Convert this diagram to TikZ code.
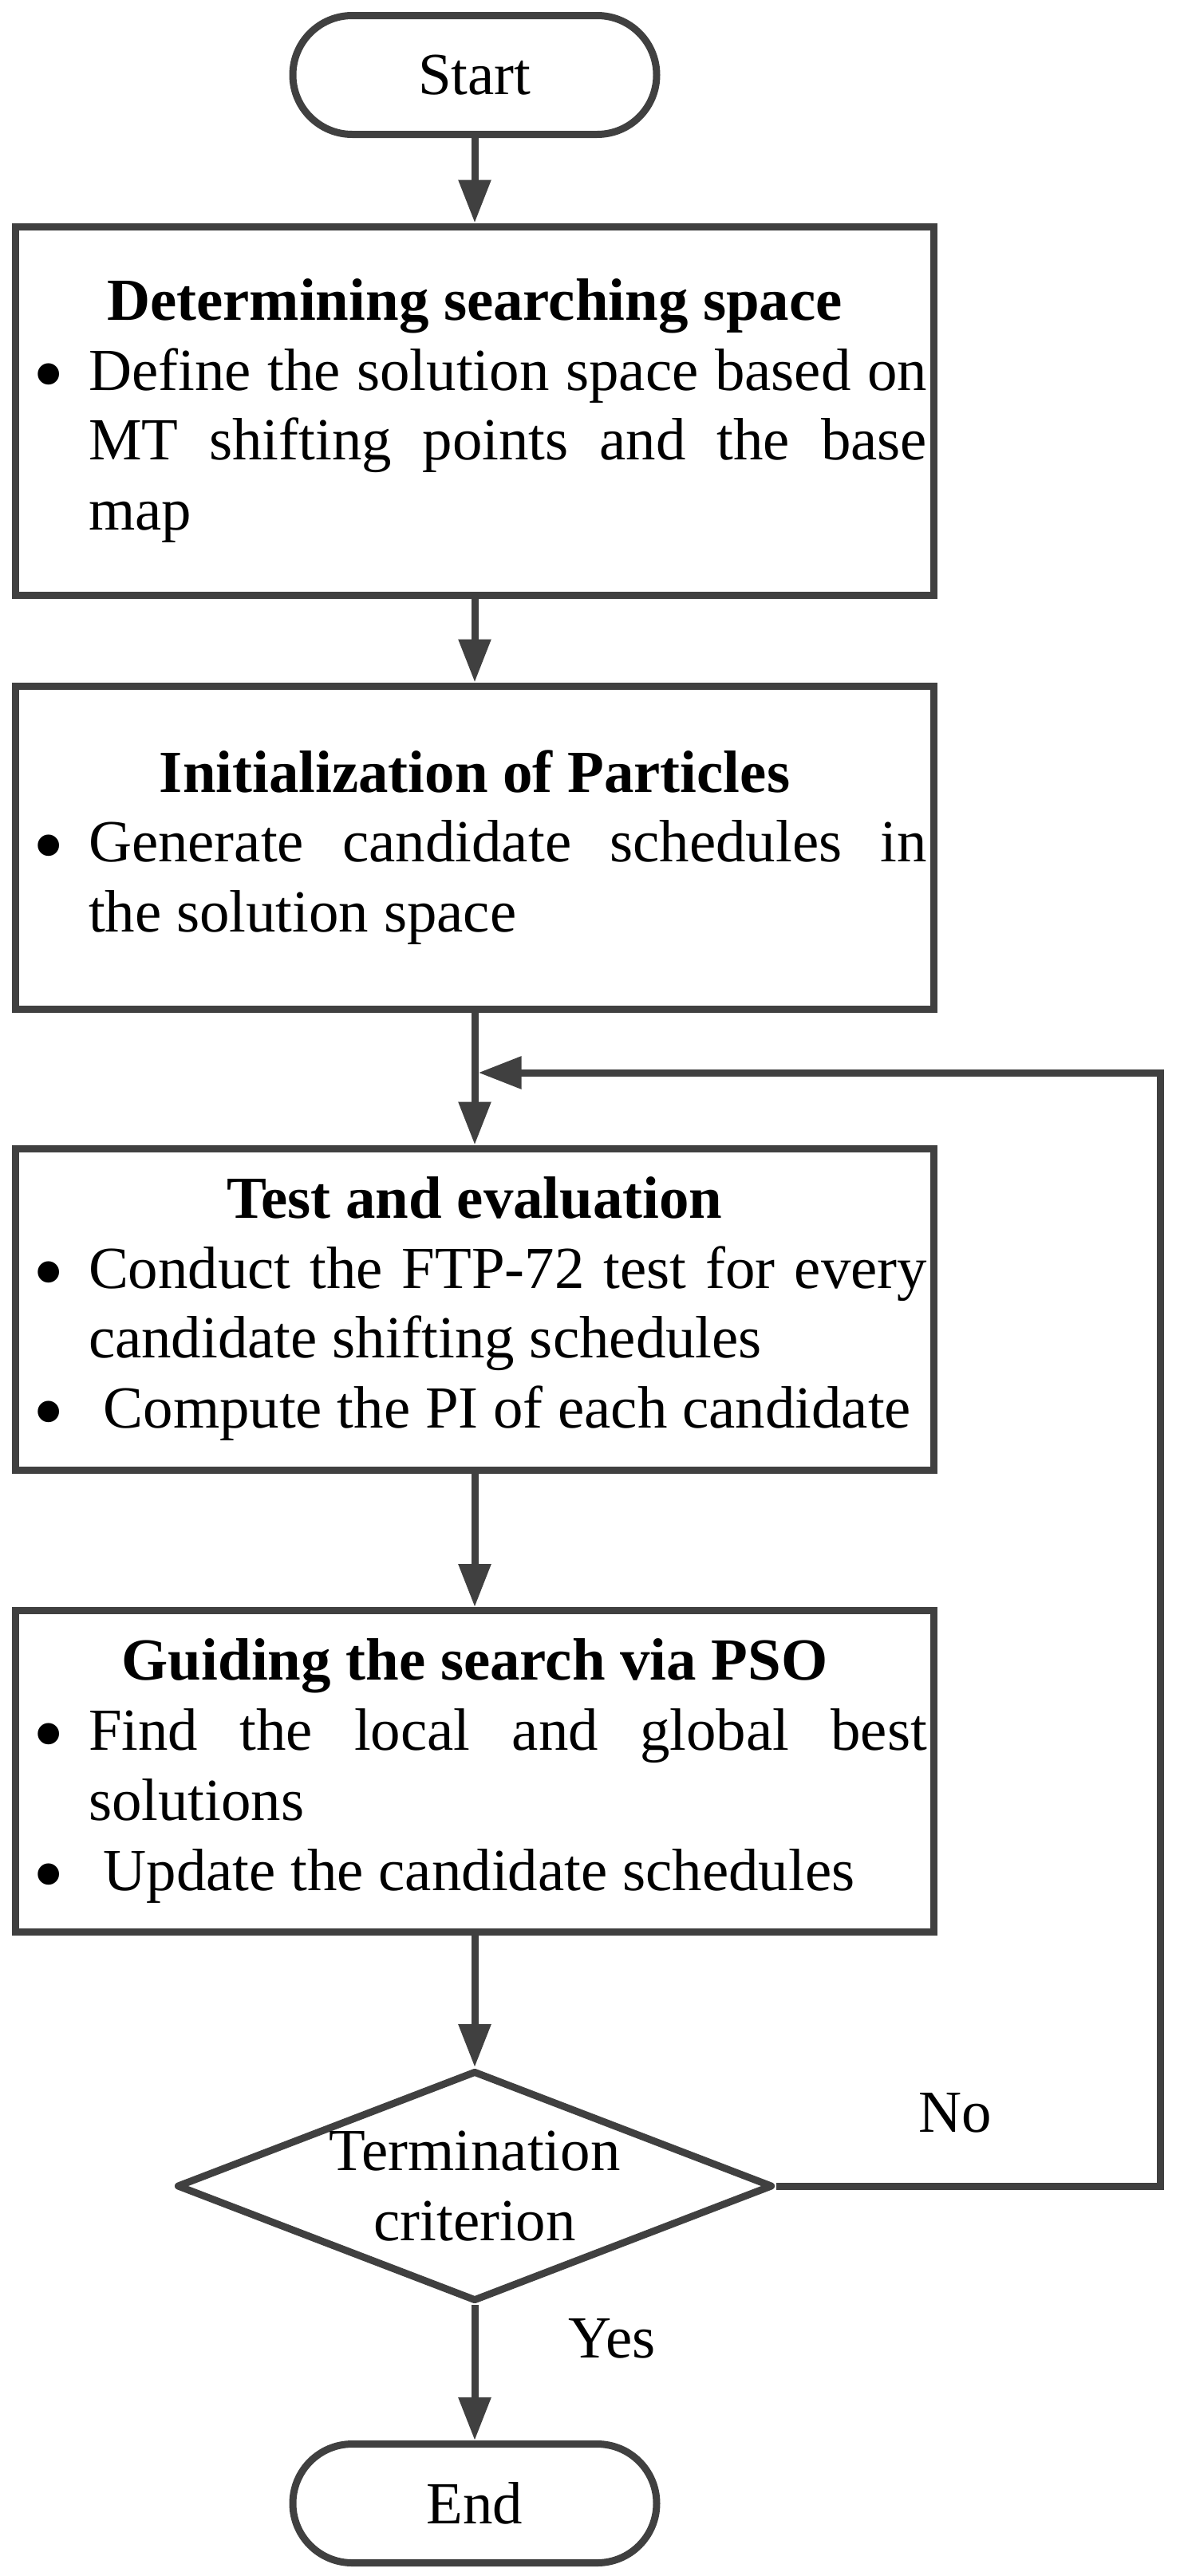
\documentclass[tikz,border=0pt]{standalone}
\usepackage{graphicx}
\usepackage{fontspec}
\setmainfont{Liberation Serif}
\usetikzlibrary{arrows.meta}
\usetikzlibrary{shapes.geometric}
\definecolor{linegray}{HTML}{404040}
% bullet line with hanging indent, and a centred bold heading
\newcommand{\itm}[1]{\par{\leftskip=0.07cm\rightskip=-0.07cm\noindent\hangindent=0.69cm\hangafter=1%
  \makebox[0.69cm][l]{\raisebox{-0.17cm}{\scalebox{1.5}{\textbullet}}}#1\par}}
\newcommand{\hd}[1]{{\centering\textbf{#1}\par}}

\begin{document}
\begin{tikzpicture}[
  every node/.style={font=\fontsize{21.3pt}{25pt}\selectfont},
  startstop/.style={draw=linegray,line width=0.09cm,rounded corners=0.745cm,
    minimum width=4.56cm,minimum height=1.49cm},
  box/.style={draw=linegray,line width=0.09cm,text width=11.2cm,inner xsep=0.155cm,
    minimum width=11.51cm,align=justify,
    execute at begin node={\parindent=0pt\tolerance=10000\hyphenpenalty=10000\exhyphenpenalty=10000}},
  decide/.style={draw=linegray,line width=0.09cm,line join=round,shape=diamond,
    aspect=2.585,inner sep=0pt,minimum width=7.47cm,minimum height=2.89cm,align=center},
  flow/.style={draw=linegray,line width=0.09cm,-{Triangle[length=0.54cm,width=0.39cm]}}
]
\useasboundingbox (0,0) rectangle (14.79,-32.30);
%\draw[gray,thin] (0,0) grid (14,-32);

%start and end
\node[startstop] (start) at (5.95,-0.94) {Start};
\node[startstop] (end) at (5.95,-31.39) {End};

%process steps
\node[box,minimum height=4.62cm] (space) at (5.95,-5.15) {\hd{Determining searching space}
  \itm{Define the solution space based on\linebreak MT shifting points and the base\linebreak map}};
\node[box,minimum height=4.05cm] (init) at (5.95,-10.625) {\hd{Initialization of Particles}
  \itm{Generate candidate schedules in\linebreak the solution space}};
\node[box,minimum height=4.03cm] (test) at (5.95,-16.415) {\hd{Test and evaluation}
  \itm{Conduct the FTP-72 test for every\linebreak candidate shifting schedules}
  \itm{\ Compute the PI of each candidate}};
\node[box,minimum height=4.03cm] (pso) at (5.95,-22.21) {\hd{Guiding the search via PSO}
  \itm{Find the local and global best\linebreak solutions}
  \itm{\ Update the candidate schedules}};

%decision
\node[decide] (crit) at (5.95,-27.41) {Termination\\criterion};
\node (no) at (11.97,-26.49) {No};
\node (yes) at (7.67,-29.32) {Yes};

%loop back
\coordinate (back) at (14.54,-13.45);
\coordinate (join) at (5.995,-13.45);

%arrows
\draw[flow] (start) -- (space);
\draw[flow] (space) -- (init);
\draw[flow] (init) -- (test);
\draw[flow] (test) -- (pso);
\draw[flow] (pso) -- (crit);
\draw[flow] (crit) -- (end);
\draw[flow] (crit.east) -| (back) -- (join);
\end{tikzpicture}
\end{document}
